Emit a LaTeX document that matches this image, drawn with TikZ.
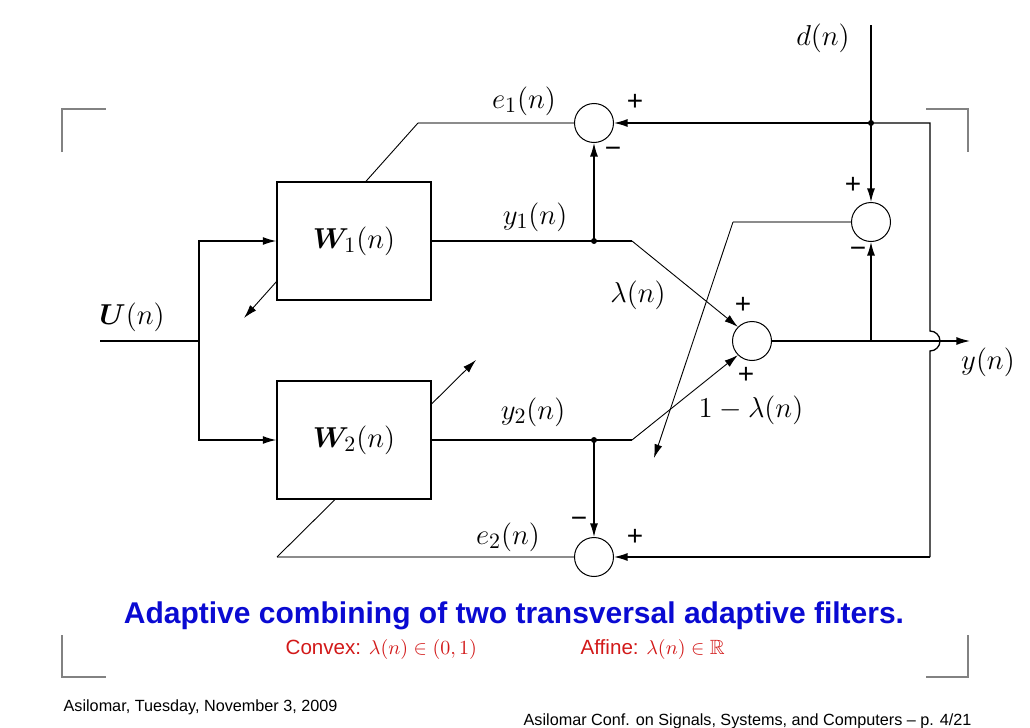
\documentclass[tikz,border=0pt]{standalone}
\usepackage{fontspec}
\setsansfont{Liberation Sans}
\usepackage{amssymb}
\usepackage{bm}
\usetikzlibrary{arrows.meta}
\definecolor{ttlblue}{RGB}{10,10,210}
\definecolor{capred}{RGB}{210,25,25}
\definecolor{markgray}{RGB}{130,130,130}
\definecolor{errgray}{RGB}{140,140,140}
\begin{document}
\begin{tikzpicture}[x=0.5pt,y=-0.5pt,line width=0.65pt,
  >={Latex[length=6.8pt,width=4pt]},
  sumnode/.style={circle,draw,line width=0.5pt,minimum size=19.5pt,inner sep=0pt,fill=white},
  filt/.style={rectangle,draw,line width=0.65pt,minimum width=77pt,minimum height=59pt,fill=white,inner sep=0pt,font=\fontsize{15}{18}\selectfont},
  lbl/.style={inner sep=0pt,font=\fontsize{15}{18}\selectfont},
  sgn/.style={inner sep=0pt,font=\sffamily\fontsize{14}{16}\selectfont},
  adapt/.style={line width=0.45pt},
  errline/.style={draw=errgray,line width=0.55pt},
  corner/.style={draw=markgray,line width=0.6pt},
  jdot/.style={circle,fill,inner sep=0pt,minimum size=3pt}
]
\useasboundingbox (0,0) rectangle (1030,728);

% corner marks
\draw[corner] (62,152) -- (62,109) -- (106,109);
\draw[corner] (926,109) -- (968,109) -- (968,152);
\draw[corner] (62,635) -- (62,677) -- (106,677);
\draw[corner] (926,677) -- (968,677) -- (968,635);

% summing junctions
\node[sumnode] (E1) at (594,123) {};
\node[sumnode] (E2) at (594,557) {};
\node[sumnode] (S) at (752,341) {};
\node[sumnode] (S2) at (871,222) {};

% coordinates
\coordinate (uin) at (100,341);
\coordinate (usp) at (199,341);
\coordinate (a1) at (418,123);
\coordinate (t1) at (244,318);
\coordinate (a2) at (277,557);
\coordinate (t2) at (476,360);
\coordinate (d1) at (594,241);
\coordinate (k1) at (632,241);
\coordinate (d2) at (594,440);
\coordinate (k2) at (632,440);
\coordinate (dtop) at (871,25);
\coordinate (dj) at (871,123);
\coordinate (rc) at (930,123);
\coordinate (hopA) at (930,331);
\coordinate (rb) at (930,557);
\coordinate (jo) at (871,341);
\coordinate (yout) at (970,341);
\coordinate (b1) at (733,222);
\coordinate (t3) at (654,458);

% adaptation paths (under the filter boxes)
\draw[errline] (E1.west) -- (a1);
\draw[->,adapt] (a1) -- (t1);
\draw[errline] (E2.west) -- (a2);
\draw[->,adapt] (a2) -- (t2);

% filters
\node[filt] (W1) at (354,241) {$\bm{W}_1(n)$};
\node[filt] (W2) at (354,440) {$\bm{W}_2(n)$};

% signal paths
\draw (uin) -- (usp);
\draw[->] (usp) |- (W1.west);
\draw[->] (usp) |- (W2.west);
\draw (W1.east) -- (d1) -- (k1);
\draw[->,adapt] (k1) -- (S.135);
\draw (W2.east) -- (d2) -- (k2);
\draw[->,adapt] (k2) -- (S.225);
\draw[->] (d1) -- (E1.south);
\draw[->] (d2) -- (E2.north);
\draw[->] (dtop) -- (S2.north);
\draw[->] (dj) -- (E1.east);
\draw (dj) -- (rc) -- (hopA) arc[start angle=90,end angle=-90,radius=5pt] -- (rb);
\draw[->] (rb) -- (E2.east);
\draw (S.east) -- (jo);
\draw[->] (jo) -- (yout);
\draw[->] (jo) -- (S2.south);
\draw[errline] (S2.west) -- (b1);
\draw[->,adapt] (b1) -- (t3);

% junction dots
\node[jdot] (j1) at (d1) {};
\node[jdot] (j2) at (d2) {};
\node[jdot] (j3) at (dj) {};

% labels
\node[lbl] (lU) at (132,317) {$\bm{U}(n)$};
\node[lbl] (ly1) at (535,217) {$y_1(n)$};
\node[lbl] (ly2) at (533,412) {$y_2(n)$};
\node[lbl] (le1) at (524,101) {$e_1(n)$};
\node[lbl] (le2) at (508,537) {$e_2(n)$};
\node[lbl] (llam) at (638,295) {$\lambda(n)$};
\node[lbl] (l1lam) at (751,410) {$1-\lambda(n)$};
\node[lbl] (lyo) at (988,362) {$y(n)$};
\node[lbl] (ld) at (823,38) {$d(n)$};

% signs
\node[sgn] (s1) at (635,102) {+};
\node[sgn] (s2) at (613,152) {−};
\node[sgn] (s3) at (853,185) {+};
\node[sgn] (s4) at (858,252) {−};
\node[sgn] (s5) at (743,305) {+};
\node[sgn] (s6) at (746,375) {+};
\node[sgn] (s7) at (579,522) {−};
\node[sgn] (s8) at (635,537) {+};

% caption and footer
\node[font=\sffamily\bfseries\fontsize{15}{18}\selectfont,text=ttlblue,anchor=base,inner sep=0pt] (title) at (514,623) {Adaptive combining of two transversal adaptive filters.};
\node[font=\sffamily\fontsize{10.3}{12}\selectfont,text=capred,anchor=base west,inner sep=0pt] (cvx) at (285,654) {Convex: $\lambda(n)\in(0,1)$};
\node[font=\sffamily\fontsize{10.3}{12}\selectfont,text=capred,anchor=base west,inner sep=0pt] (aff) at (580,654) {Affine: $\lambda(n)\in\mathbb{R}$};
\node[font=\sffamily\fontsize{8.1}{10}\selectfont,anchor=base west,inner sep=0pt] (fl) at (63,711) {Asilomar, Tuesday, November 3, 2009};
\node[font=\sffamily\fontsize{8.1}{10}\selectfont,anchor=base west,inner sep=0pt] (fr) at (523,725) {Asilomar Conf. on Signals, Systems, and Computers – p. 4/21};
\end{tikzpicture}
\end{document}
